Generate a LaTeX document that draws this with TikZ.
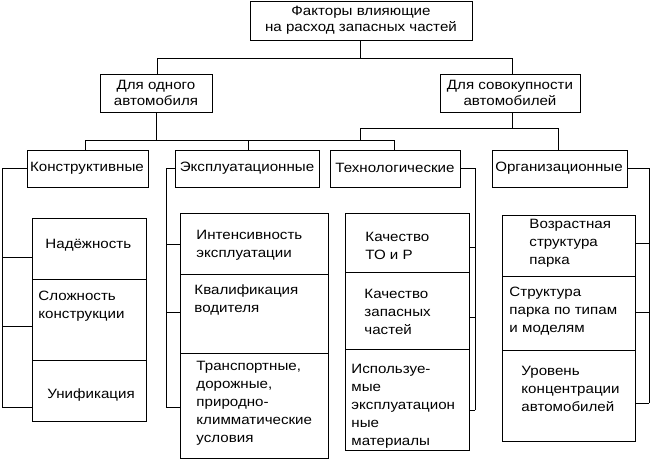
\documentclass[tikz,border=0pt]{standalone}
\usepackage{fontspec}
\setmainfont[FakeStretch=1.12]{Liberation Sans}
\begin{document}
\begin{tikzpicture}[x=1pt,y=-1pt,line width=0.9pt,
  tx/.style={anchor=west,align=left,inner sep=0pt,font=\fontsize{13.5}{18}\selectfont},
  ct/.style={align=center,inner sep=0pt,font=\fontsize{13.5}{16}\selectfont}]
\useasboundingbox (0,0) rectangle (652,461);
% top
\draw (250,1) rectangle (472,40); \node[ct] (top) at (361,20) {Факторы влияющие\\на расход запасных частей};
\coordinate (t1) at (360,40);
\draw (t1) -- (360,58) (157,58) -- (512,58) (157,58) -- (157,74) (512,58) -- (512,74);
\draw (100,74) rectangle (212,112); \node[ct] (a) at (156,93) {Для одного\\автомобиля};
\draw (440,74) rectangle (580,112); \node[ct] (b) at (510,93) {Для совокупности\\автомобилей};
\draw (156,112) -- (156,140) (85,140) -- (394,140) (85,140) -- (85,150) (248,140) -- (248,150) (394,140) -- (394,150);
\draw (512,112) -- (512,128) (360,128) -- (558,128) (360,128) -- (360,140) (558,128) -- (558,150);
% level 2
\draw (27,150) rectangle (148,187); \node[ct] (k) at (87,168) {Конструктивные};
\draw (175,150) rectangle (319,187); \node[ct] (e) at (247,168) {Эксплуатационные};
\draw (330,150) rectangle (460,187); \node[ct] (t) at (395,168) {Технологические};
\draw (492,150) rectangle (627,187); \node[ct] (o) at (559,168) {Организационные};
% Konstr
\draw (27,168) -- (2,168) -- (2,407);
\draw (2,257) -- (32,257) (2,326) -- (32,326) (2,407) -- (32,407);
\draw (32,218) rectangle (146,421) (32,279) -- (146,279) (32,360) -- (146,360);
\node[tx] (k1) at (45,245) {Надёжность};
\node[tx] (k2) at (38,306) {Сложность\\конструкции};
\node[tx] (k3) at (47,395) {Унификация};
% Ekspl
\draw (175,168) -- (166,168) -- (166,407);
\draw (166,244) -- (180,244) (166,312) -- (180,312) (166,407) -- (180,407);
\draw (180,213) rectangle (328,458) (180,274) -- (328,274) (180,353) -- (328,353);
\node[tx] (e1) at (196,245) {Интенсивность\\эксплуатации};
\node[tx] (e2) at (194,300) {Квалификация\\водителя};
\node[tx] (e3) at (196,403) {Транспортные,\\дорожные,\\природно-\\климматические\\условия};
% Tech
\draw (460,168) -- (475,168) -- (475,410);
\draw (475,247) -- (469,247) (475,317) -- (469,317) (475,410) -- (469,410);
\draw (345,213) rectangle (469,450) (345,272) -- (469,272) (345,349) -- (469,349);
\node[tx] (t1n) at (365,246) {Качество\\ТО и Р};
\node[tx] (t2) at (364,312) {Качество\\запасных\\частей};
\node[tx] (t3) at (351,406) {Используе-\\мые\\эксплуатацион\\ные\\материалы};
% Org
\draw (627,168) -- (649,168) -- (649,403);
\draw (649,243) -- (635,243) (649,312) -- (635,312) (649,403) -- (635,403);
\draw (502,215) rectangle (635,441) (502,276) -- (635,276) (502,350) -- (635,350);
\node[tx] (o1) at (529,243) {Возрастная\\структура\\парка};
\node[tx] (o2) at (509,311) {Структура\\парка по типам\\и моделям};
\node[tx] (o3) at (521,389) {Уровень\\концентрации\\автомобилей};
\end{tikzpicture}
\end{document}
